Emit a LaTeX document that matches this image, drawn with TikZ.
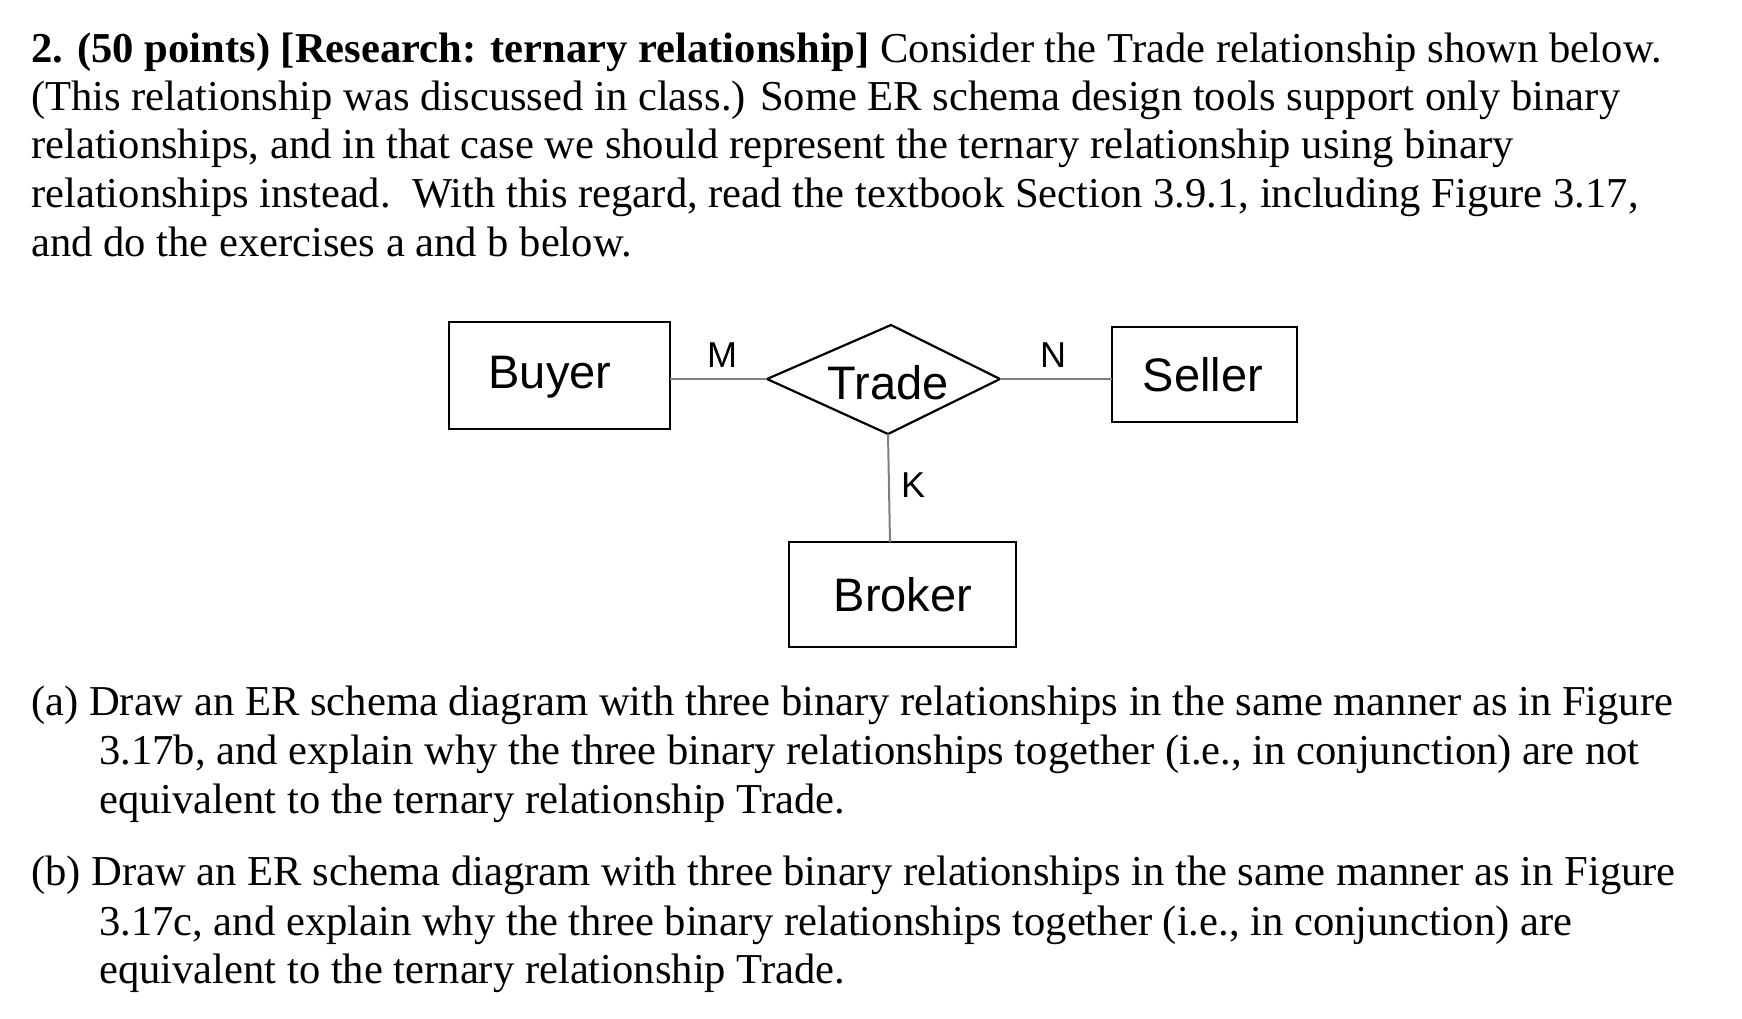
\documentclass[tikz,border=0pt]{standalone}
\usepackage{fontspec}
\setmainfont{Liberation Serif}
\newfontfamily\arial{Liberation Sans}
\begin{document}
\begin{tikzpicture}[x=1pt,y=-1pt,
  txt/.style={anchor=base west,inner sep=0pt,font=\fontsize{42.6}{48}\selectfont},
  efont/.style={font=\arial\fontsize{47}{50}\selectfont,inner sep=0pt},
  lbl/.style={font=\arial\fontsize{36}{40}\selectfont,inner sep=0pt},
  conn/.style={draw=gray,line width=2pt}]
\useasboundingbox (0,0) rectangle (1742,1018);
\node[txt] (l1) at (31,62) {\textbf{2. (50 points) [Research: ternary relationship]} Consider the Trade relationship shown below.};
\node[txt] (l2) at (31,110) {(This relationship was discussed in class.) Some ER schema design tools support only binary};
\node[txt] (l3) at (31,158) {relationships, and in that case we should represent the ternary relationship using binary};
\node[txt] (l4) at (31,207) {relationships instead.\ \ With this regard, read the textbook Section 3.9.1, including Figure 3.17,};
\node[txt] (l5) at (31,256) {and do the exercises a and b below.};
\draw[line width=2.2pt] (449,322) rectangle (670,429);
\node[efont] (buyer) at (550,377) {Buyer};
\coordinate (be) at (670,379);
\draw[line width=2.2pt] (1112,327) rectangle (1297,422);
\node[efont] (seller) at (1203,375) {Seller};
\coordinate (se) at (1112,379);
\draw[line width=2.2pt] (789,542) rectangle (1016,647);
\node[efont] (broker) at (903,595) {Broker};
\coordinate (bt) at (890,542);
\draw[line width=2.2pt] (767,379) coordinate (dl) -- (891,325) -- (1000,379) coordinate (dr) -- (888,434) coordinate (db) -- cycle;
\node[efont] (trade) at (888,383) {Trade};
\draw[conn] (be) -- (dl);
\draw[conn] (dr) -- (se);
\draw[conn] (db) -- (bt);
\node[lbl] (m) at (722,355) {M};
\node[lbl] (n) at (1053,355) {N};
\node[lbl] (k) at (913,485) {K};
\node[txt] (a1) at (31,715) {(a)\ Draw an ER schema diagram with three binary relationships in the same manner as in Figure};
\node[txt] (a2) at (99,764) {3.17b, and explain why the three binary relationships together (i.e., in conjunction) are not};
\node[txt] (a3) at (99,813) {equivalent to the ternary relationship Trade.};
\node[txt] (b1) at (31,885) {(b)\ Draw an ER schema diagram with three binary relationships in the same manner as in Figure};
\node[txt] (b2) at (99,935) {3.17c, and explain why the three binary relationships together (i.e., in conjunction) are};
\node[txt] (b3) at (99,983) {equivalent to the ternary relationship Trade.};
\end{tikzpicture}
\end{document}
